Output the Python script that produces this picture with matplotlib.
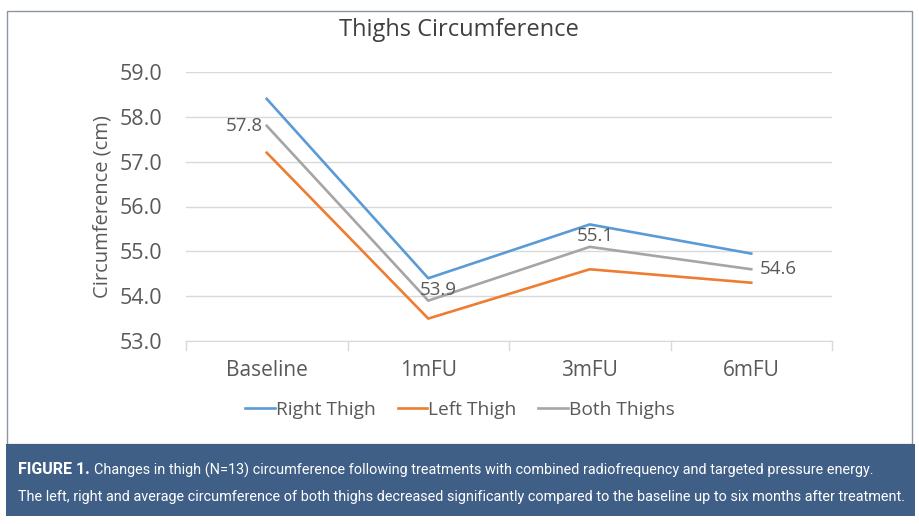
import matplotlib
matplotlib.use("Agg")
import matplotlib.pyplot as plt
from matplotlib.patches import Rectangle

# values
categories = ["Baseline", "1mFU", "3mFU", "6mFU"]
right_thigh = [58.4, 54.4, 55.6, 54.95]
left_thigh = [57.2, 53.5, 54.6, 54.3]
both_thighs = [57.8, 53.9, 55.1, 54.6]
both_labels = ["57.8", "53.9", "55.1", "54.6"]
y_ticks = [53.0, 54.0, 55.0, 56.0, 57.0, 58.0, 59.0]

caption_bold = "FIGURE 1."
caption_1 = "Changes in thigh (N=13) circumference following treatments with combined radiofrequency and targeted pressure energy."
caption_2 = "The left, right and average circumference of both thighs decreased significantly compared to the baseline up to six months after treatment."

plt.rcParams['font.family'] = ['Open Sans', 'DejaVu Sans']
text_col = "#595959"

fig = plt.figure(figsize=(9.2, 5.24), dpi=100)

# outer chart frame and caption band
fig.patches.append(Rectangle((7/920, 1-444/524), 905/920, 433/524, transform=fig.transFigure,
                             facecolor="white", edgecolor="#8c96a3", lw=1.0, zorder=-2))
fig.patches.append(Rectangle((6/920, 1-516/524), 909/920, 72/524, transform=fig.transFigure,
                             facecolor="#3f5f87", edgecolor="none", zorder=-1))

ax = fig.add_axes([186/920, 1-341/524, 646/920, 269/524])
ax.set_facecolor("none")
x = range(len(categories))
ax.plot(x, right_thigh, color="#5B9BD5", lw=1.9, label="Right Thigh")
ax.plot(x, left_thigh, color="#ED7D31", lw=1.9, label="Left Thigh")
ax.plot(x, both_thighs, color="#A5A5A5", lw=1.9, label="Both Thighs")

offsets = [(-3, 0, "right"), (7, 8, "center"), (4, 8, "center"), (6, 0, "left")]
for i, (lab, (dx, dy, ha)) in enumerate(zip(both_labels, offsets)):
    ax.annotate(lab, (i, both_thighs[i]), xytext=(dx, dy), textcoords="offset points",
                ha=ha, va="center", fontsize=13.5, color=text_col)

ax.set_xlim(-0.5, 3.5)
ax.set_ylim(53, 59)
ax.set_yticks(y_ticks)
ax.set_yticklabels([f"{v:.1f}" for v in y_ticks], fontsize=15.5, color=text_col)
ax.set_xticks(list(x))
ax.set_xticklabels(categories, fontsize=15, color=text_col)
ax.tick_params(axis="y", length=0, pad=17)
ax.tick_params(axis="x", length=0, pad=14)
# boundary tick marks between categories
for b in [-0.5, 0.5, 1.5, 2.5, 3.5]:
    ax.plot([b, b], [53, 52.8], color="#D9D9D9", lw=1, clip_on=False)
ax.grid(axis="y", color="#D9D9D9", lw=1)
ax.set_axisbelow(True)
for s in ["left", "right", "top"]:
    ax.spines[s].set_visible(False)
ax.spines["bottom"].set_color("#D9D9D9")
ax.set_ylabel("Circumference (cm)", fontsize=14.5, color=text_col, labelpad=5)

fig.text(459/920, 1-30/524, "Thighs Circumference", ha="center", va="center",
         fontsize=17, color="#404040")

ax.legend(loc="center", bbox_to_anchor=(460/920, 1-410/524), bbox_transform=fig.transFigure,
          ncol=3, frameon=False, fontsize=13.8, labelcolor=text_col, handlelength=1.55,
          handletextpad=0.05, columnspacing=1.15)

# caption: no condensed face installed, so shrink the size to fit the band width
cap_font = ['Roboto', 'DejaVu Sans']
fig.canvas.draw()
rend = fig.canvas.get_renderer()
t = fig.text(18/920, 1-470/524, caption_bold, ha="left", va="center", fontsize=11.5,
             color="white", fontweight="bold", family=cap_font)
t1 = fig.text(0, 1-470/524, caption_1, ha="left", va="center", fontsize=10,
              color="white", family=cap_font)
t2 = fig.text(18/920, 1-497/524, caption_2, ha="left", va="center", fontsize=10,
              color="white", family=cap_font)
w2 = t2.get_window_extent(rend).width
t2.set_fontsize(10 * 887 / w2)
wb = t.get_window_extent(rend)
t1.set_x((wb.x1 + 4) / 920)
w1 = t1.get_window_extent(rend).width
t1.set_fontsize(min(10 * (903 - wb.x1 - 4) / w1, 10 * 887 / w2))

fig.savefig("out.png", dpi=100)
